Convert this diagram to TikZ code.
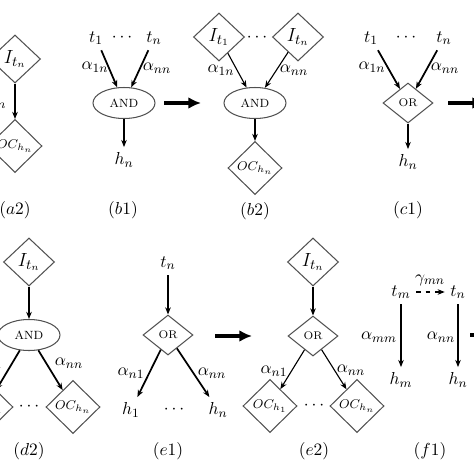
\documentclass[tikz,border=0pt]{standalone}
\usetikzlibrary{shapes.geometric,arrows.meta}
\definecolor{shapegray}{RGB}{80,80,80}
\begin{document}
\begin{tikzpicture}[x=0.63pt,y=-0.63pt,
  every node/.style={font=\fontsize{11}{13}\selectfont},
  captxt/.style={font=\fontsize{10.5}{12}\selectfont},
  dia/.style={diamond, draw=shapegray, line width=0.65pt, inner sep=0pt, minimum width=51*0.63pt, minimum height=48*0.63pt, font=\fontsize{12.5}{14}\selectfont},
  ocdia/.style={dia, minimum width=54*0.63pt, minimum height=53*0.63pt, font=\footnotesize},
  ordia/.style={dia, minimum width=50*0.63pt, minimum height=40*0.63pt, font=\scriptsize},
  gate/.style={ellipse, draw=shapegray, line width=0.65pt, inner sep=0pt, minimum width=62*0.63pt, minimum height=31*0.63pt, font=\fontsize{7.5}{9}\selectfont},
  arr/.style={-{Stealth[length=4.5pt,width=3.5pt]}, line width=0.7pt},
  barr/.style={arr, line width=1.1pt},
  bigarr/.style={-{Latex[length=8pt,width=7.5pt]}, line width=3pt}]
\useasboundingbox (0,0) rectangle (474,474);
\fill[white] (0,0) rectangle (474,474);
\clip (0,0) rectangle (474,474);
% (a2)
\node[dia] (a2I) at (15,59) {$I_{t_n}$};
\node[ocdia] (a2O) at (15,146) {$OC_{h_n}$};
\draw[arr] (a2I) -- (a2O);
\node[anchor=east] (a2l) at (12,103) {$\alpha_{nn}$};
\node[captxt] (a2c) at (15,210) {$(a2)$};
% (b1)
\node (b1t1) at (96,38) {$t_1$};
\node (b1d) at (122,38) {$\cdots$};
\node (b1tn) at (154,38) {$t_n$};
\node[gate] (b1g) at (124,103) {AND};
\node (b1h) at (124,160) {$h_n$};
\draw[barr] (b1t1) -- (b1g);
\draw[barr] (b1tn) -- (b1g);
\draw[barr] (b1g) -- (b1h);
\node (b1a1) at (95,67) {$\alpha_{1n}$};
\node (b1an) at (157,68) {$\alpha_{nn}$};
\node[captxt] (b1c) at (123,210) {$(b1)$};
\coordinate (ba1s) at (164,103);
\coordinate (ba1e) at (201,103);
\draw[bigarr] (ba1s) -- (ba1e);
% (b2)
\node[dia] (b2I1) at (219,37) {$I_{t_1}$};
\node[dia] (b2In) at (298,37) {$I_{t_n}$};
\node (b2d) at (257,38) {$\cdots$};
\node[gate] (b2g) at (255,103) {AND};
\node[ocdia] (b2O) at (255,168) {$OC_{h_n}$};
\draw[arr] (b2I1) -- (b2g);
\draw[arr] (b2In) -- (b2g);
\draw[arr] (b2g) -- (b2O);
\node (b2a1) at (221,70) {$\alpha_{1n}$};
\node (b2an) at (294,70) {$\alpha_{nn}$};
\node[captxt] (b2c) at (255,211) {$(b2)$};
% (c1)
\node (c1t1) at (371,38) {$t_1$};
\node (c1d) at (406,38) {$\cdots$};
\node (c1tn) at (444,38) {$t_n$};
\node[ordia] (c1g) at (408,103) {OR};
\node (c1h) at (408,162) {$h_n$};
\draw[barr] (c1t1) -- (c1g);
\draw[barr] (c1tn) -- (c1g);
\draw[barr] (c1g) -- (c1h);
\node (c1a1) at (372,67) {$\alpha_{1n}$};
\node (c1an) at (445,68) {$\alpha_{nn}$};
\node[captxt] (c1c) at (408,210) {$(c1)$};
\coordinate (ba2s) at (448,103);
\coordinate (ba2e) at (485,103);
\draw[bigarr] (ba2s) -- (ba2e);
% (d2)
\node[dia] (d2I) at (29,262) {$I_{t_n}$};
\node[gate] (d2g) at (29,335) {AND};
\node[ocdia] (d2O1) at (-14,407) {$OC_{h_1}$};
\node[ocdia] (d2On) at (73,407) {$OC_{h_n}$};
\node (d2d) at (29,407) {$\cdots$};
\draw[arr] (d2I) -- (d2g);
\draw[barr] (d2g) -- (d2O1);
\draw[barr] (d2g) -- (d2On);
\node (d2a1) at (-11,363) {$\alpha_{n1}$};
\node (d2an) at (69,363) {$\alpha_{nn}$};
\node[captxt] (d2c) at (29,451) {$(d2)$};
% (e1)
\node (e1t) at (168,263) {$t_n$};
\node[ordia] (e1g) at (168,335) {OR};
\node (e1h1) at (131,410) {$h_1$};
\node (e1hn) at (218,410) {$h_n$};
\node (e1d) at (174,410) {$\cdots$};
\draw[arr] (e1t) -- (e1g);
\draw[barr] (e1g) -- (e1h1);
\draw[barr] (e1g) -- (e1hn);
\node (e1a1) at (131,373) {$\alpha_{n1}$};
\node (e1an) at (212,373) {$\alpha_{nn}$};
\node[captxt] (e1c) at (168,451) {$(e1)$};
\coordinate (ba3s) at (215,336);
\coordinate (ba3e) at (252,336);
\draw[bigarr] (ba3s) -- (ba3e);
% (e2)
\node[dia] (e2I) at (313,262) {$I_{t_n}$};
\node[ordia] (e2g) at (313,336) {OR};
\node[ocdia] (e2O1) at (270,406) {$OC_{h_1}$};
\node[ocdia] (e2On) at (357,406) {$OC_{h_n}$};
\node (e2d) at (314,406) {$\cdots$};
\draw[arr] (e2I) -- (e2g);
\draw[arr] (e2g) -- (e2O1);
\draw[arr] (e2g) -- (e2On);
\node (e2a1) at (274,371) {$\alpha_{n1}$};
\node (e2an) at (351,370) {$\alpha_{nn}$};
\node[captxt] (e2c) at (314,451) {$(e2)$};
% (f1)
\node (f1tm) at (401,292) {$t_m$};
\node (f1tn) at (458,292) {$t_n$};
\node (f1hm) at (401,380) {$h_m$};
\node (f1hn) at (458,380) {$h_n$};
\draw[arr, dashed] (f1tm) -- (f1tn);
\node (f1g) at (430,280) {$\gamma_{mn}$};
\draw[barr] (f1tm) -- (f1hm);
\draw[barr] (f1tn) -- (f1hn);
\node (f1am) at (379,337) {$\alpha_{mm}$};
\node (f1an) at (441,337) {$\alpha_{nn}$};
\node[captxt] (f1c) at (430,451) {$(f1)$};
\coordinate (ba4s) at (470,335);
\coordinate (ba4e) at (507,335);
\draw[bigarr] (ba4s) -- (ba4e);
\end{tikzpicture}
\end{document}
